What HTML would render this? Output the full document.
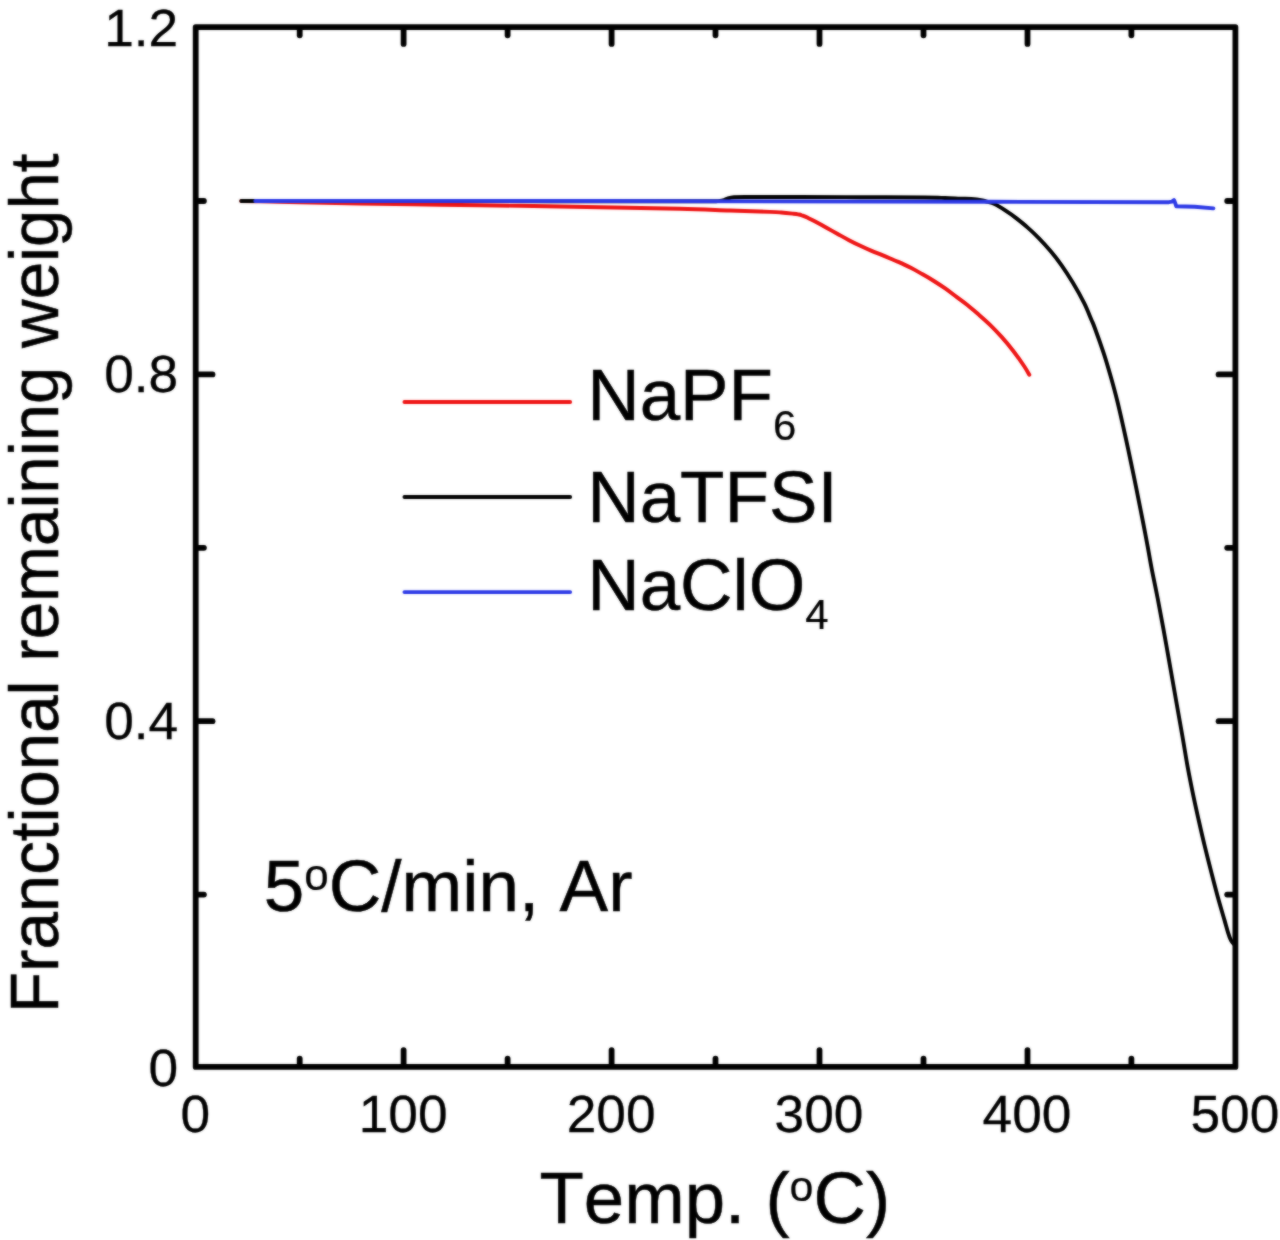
<!DOCTYPE html>
<html lang="en">
<head>
<meta charset="utf-8">
<title>TGA of sodium salts</title>
<style>
html,body{margin:0;padding:0;background:#fff;}
body{width:1280px;height:1240px;overflow:hidden;}
svg{display:block;}
text{font-family:"Liberation Sans",Arial,Helvetica,sans-serif;fill:#000;font-kerning:none;}
.tick{font-size:52.6px;stroke:#000;stroke-width:0.3px;}
.lbl{stroke:#000;stroke-width:0.5px;}
.lbl .s{stroke-width:0.2px;}
.big{font-size:68px;}
</style>
</head>
<body>
<svg width="1280" height="1240" viewBox="0 0 1280 1240">
<filter id="soft" x="0" y="0" width="1280" height="1240" filterUnits="userSpaceOnUse" color-interpolation-filters="sRGB">
<feGaussianBlur in="SourceGraphic" stdDeviation="0.8" result="b"/>
<feComposite in="SourceGraphic" in2="b" operator="arithmetic" k1="0" k2="0.45" k3="0.55" k4="0"/>
</filter>
<g filter="url(#soft)">
<rect x="0" y="0" width="1280" height="1240" fill="#fff"/>
<g fill="none" stroke-linejoin="round" stroke-linecap="round" stroke-width="3.9">
<path stroke="#ee1212" d="M241.3,201.0 C246.1,201.1 260.2,201.4 270.0,201.6 C279.8,201.8 285.0,202.0 300.0,202.3 C315.0,202.6 336.7,203.1 360.0,203.5 C383.3,203.9 413.3,204.3 440.0,204.7 C466.7,205.1 493.3,205.3 520.0,205.8 C546.7,206.2 573.3,206.8 600.0,207.3 C626.7,207.8 658.3,208.2 680.0,208.8 C701.7,209.3 715.0,210.0 730.0,210.5 C745.0,211.0 761.5,211.6 770.0,211.9 C778.5,212.2 777.5,212.2 781.3,212.5 C785.1,212.8 789.8,213.3 792.6,213.6 C795.4,213.9 796.5,214.0 798.0,214.3 C799.5,214.6 800.0,214.6 801.5,215.2 C803.0,215.8 805.0,216.5 807.3,217.6 C809.6,218.7 812.0,219.8 815.2,221.5 C818.4,223.2 822.8,225.6 826.5,227.7 C830.2,229.8 834.0,231.9 837.7,234.0 C841.5,236.1 845.2,238.2 849.0,240.2 C852.8,242.2 856.5,244.0 860.3,245.8 C864.1,247.6 867.8,249.3 871.6,250.9 C875.4,252.5 879.1,253.8 882.9,255.4 C886.7,257.0 891.4,259.1 894.2,260.3 C897.1,261.5 897.1,261.3 900.0,262.6 C902.9,263.9 907.5,266.2 911.3,268.1 C915.1,270.1 918.8,272.2 922.6,274.3 C926.4,276.4 930.1,278.6 933.9,281.0 C937.7,283.4 941.4,285.8 945.2,288.4 C949.0,291.0 952.8,294.1 956.5,296.9 C960.2,299.7 964.0,302.3 967.7,305.3 C971.5,308.3 975.2,311.6 979.0,314.9 C982.8,318.2 986.5,321.4 990.3,325.1 C994.1,328.8 997.8,332.7 1001.6,336.9 C1005.4,341.1 1009.1,345.6 1012.9,350.5 C1016.7,355.4 1021.5,362.2 1024.2,366.3 C1026.9,370.4 1028.5,373.4 1029.3,374.8"/>
<path stroke="#000" d="M241.3,201.0 C267.8,201.0 348.6,201.0 400.0,201.0 C451.4,201.0 508.3,201.1 550.0,201.2 C591.7,201.2 626.7,201.3 650.0,201.3 C673.3,201.3 680.3,201.3 690.0,201.3 C699.7,201.3 703.7,201.3 708.0,201.2 C712.3,201.2 714.0,201.2 716.0,201.2 C718.0,201.1 718.7,201.2 720.0,201.0 C721.3,200.8 722.7,200.4 724.0,200.0 C725.3,199.6 726.3,198.8 728.0,198.3 C729.7,197.8 731.2,197.4 734.0,197.2 C736.8,197.0 740.7,197.0 745.0,197.0 C749.3,197.0 750.8,197.0 760.0,197.0 C769.2,197.0 783.3,197.0 800.0,197.0 C816.7,197.0 839.2,197.1 860.0,197.2 C880.8,197.3 910.8,197.4 925.0,197.5 C939.2,197.6 939.2,197.8 945.0,198.0 C950.8,198.2 955.6,198.5 960.0,198.7 C964.4,198.9 967.5,198.7 971.3,199.0 C975.1,199.3 979.8,200.0 982.6,200.5 C985.4,201.0 986.1,201.4 988.0,202.0 C989.9,202.6 991.1,202.4 994.0,203.8 C996.9,205.2 1001.5,208.0 1005.2,210.4 C1009.0,212.8 1012.8,215.5 1016.5,218.4 C1020.2,221.3 1024.0,224.3 1027.7,227.6 C1031.5,230.9 1035.2,234.5 1039.0,238.3 C1042.8,242.2 1046.5,246.2 1050.3,250.7 C1054.1,255.2 1057.8,259.9 1061.6,265.3 C1065.4,270.7 1069.1,276.5 1072.9,282.8 C1076.7,289.1 1081.1,297.0 1084.2,303.2 C1087.3,309.4 1089.7,315.9 1091.5,320.0 C1093.3,324.1 1092.8,322.6 1094.8,328.0 C1096.8,333.4 1100.8,344.5 1103.5,352.6 C1106.2,360.7 1108.5,368.7 1110.8,376.8 C1113.1,384.9 1115.3,392.9 1117.3,401.0 C1119.3,409.1 1121.1,417.1 1122.9,425.2 C1124.7,433.3 1126.5,441.3 1128.2,449.4 C1129.9,457.5 1131.6,465.5 1133.3,473.6 C1135.0,481.7 1136.6,489.7 1138.2,497.8 C1139.8,505.9 1141.4,513.9 1143.0,522.0 C1144.6,530.1 1146.1,538.1 1147.6,546.2 C1149.1,554.3 1150.3,561.8 1152.0,570.4 C1153.7,579.0 1155.2,585.6 1157.6,598.0 C1160.0,610.4 1163.5,629.3 1166.3,645.0 C1169.1,660.7 1171.9,677.0 1174.6,692.0 C1177.2,707.0 1180.0,722.6 1182.2,735.0 C1184.4,747.4 1185.8,756.9 1187.6,766.6 C1189.4,776.3 1191.0,784.3 1192.8,793.2 C1194.6,802.1 1196.6,810.9 1198.6,819.8 C1200.6,828.7 1202.6,837.5 1204.8,846.4 C1207.0,855.3 1209.2,864.1 1211.5,873.0 C1213.8,881.9 1216.3,891.6 1218.5,899.6 C1220.7,907.6 1223.1,915.3 1224.7,920.9 C1226.3,926.5 1227.2,930.0 1228.3,933.3 C1229.3,936.5 1230.0,938.5 1231.0,940.4 C1232.0,942.3 1233.9,944.1 1234.5,944.8"/>
<polyline stroke="#2b38e6" points="255.3,201.0 600.0,201.0 990.0,201.8 1168.9,202.2 1172.0,201.6 1174.0,200.1 1175.2,203.0 1176.3,206.3 1194.7,206.7 1213.4,208.4"/>
</g>
<g stroke="#000" stroke-width="5.8" stroke-linecap="round" fill="none">
<line x1="299.7" y1="28.6" x2="299.7" y2="35.3"/>
<line x1="299.7" y1="1065.4" x2="299.7" y2="1058.7"/>
<line x1="403.6" y1="28.6" x2="403.6" y2="43.9"/>
<line x1="403.6" y1="1065.4" x2="403.6" y2="1050.1"/>
<line x1="507.6" y1="28.6" x2="507.6" y2="35.3"/>
<line x1="507.6" y1="1065.4" x2="507.6" y2="1058.7"/>
<line x1="611.6" y1="28.6" x2="611.6" y2="43.9"/>
<line x1="611.6" y1="1065.4" x2="611.6" y2="1050.1"/>
<line x1="715.5" y1="28.6" x2="715.5" y2="35.3"/>
<line x1="715.5" y1="1065.4" x2="715.5" y2="1058.7"/>
<line x1="819.5" y1="28.6" x2="819.5" y2="43.9"/>
<line x1="819.5" y1="1065.4" x2="819.5" y2="1050.1"/>
<line x1="923.5" y1="28.6" x2="923.5" y2="35.3"/>
<line x1="923.5" y1="1065.4" x2="923.5" y2="1058.7"/>
<line x1="1027.5" y1="28.6" x2="1027.5" y2="43.9"/>
<line x1="1027.5" y1="1065.4" x2="1027.5" y2="1050.1"/>
<line x1="1131.4" y1="28.6" x2="1131.4" y2="35.3"/>
<line x1="1131.4" y1="1065.4" x2="1131.4" y2="1058.7"/>
<line x1="197.2" y1="894.6" x2="203.9" y2="894.6"/>
<line x1="1233.9" y1="894.6" x2="1227.2" y2="894.6"/>
<line x1="197.2" y1="721.2" x2="212.5" y2="721.2"/>
<line x1="1233.9" y1="721.2" x2="1218.6" y2="721.2"/>
<line x1="197.2" y1="547.8" x2="203.9" y2="547.8"/>
<line x1="1233.9" y1="547.8" x2="1227.2" y2="547.8"/>
<line x1="197.2" y1="374.4" x2="212.5" y2="374.4"/>
<line x1="1233.9" y1="374.4" x2="1218.6" y2="374.4"/>
<line x1="197.2" y1="201.0" x2="203.9" y2="201.0"/>
<line x1="1233.9" y1="201.0" x2="1227.2" y2="201.0"/>
</g>
<rect x="195.7" y="27.1" width="1039.7" height="1039.8" fill="none" stroke="#000" stroke-width="5.8" stroke-linejoin="round"/>
<g class="tick">
<text transform="translate(195.2,1132.2) scale(1.013,1)" text-anchor="middle">0</text>
<text transform="translate(403.1,1132.2) scale(1.013,1)" text-anchor="middle">100</text>
<text transform="translate(611.1,1132.2) scale(1.013,1)" text-anchor="middle">200</text>
<text transform="translate(819.0,1132.2) scale(1.013,1)" text-anchor="middle">300</text>
<text transform="translate(1027.0,1132.2) scale(1.013,1)" text-anchor="middle">400</text>
<text transform="translate(1234.9,1132.2) scale(1.013,1)" text-anchor="middle">500</text>
<text transform="translate(178.2,1086.0) scale(1.013,1)" text-anchor="end">0</text>
<text transform="translate(178.2,739.2) scale(1.013,1)" text-anchor="end">0.4</text>
<text transform="translate(178.2,392.4) scale(1.013,1)" text-anchor="end">0.8</text>
<text transform="translate(178.2,45.6) scale(1.013,1)" text-anchor="end">1.2</text>
</g>
<g stroke-width="3.8" stroke-linecap="round">
<line x1="404.4" y1="402" x2="570.2" y2="402" stroke="#ee1212"/>
<line x1="404.4" y1="497" x2="570.2" y2="497" stroke="#000"/>
<line x1="404.4" y1="592.1" x2="570.2" y2="592.1" stroke="#2b38e6"/>
</g>
<g class="lbl">
<text x="587.2" y="420" font-size="72.7">NaPF<tspan class="s" font-size="42" dy="19.5">6</tspan></text>
<text x="587.2" y="522.2" font-size="72.7">NaTFSI</text>
<text x="587.2" y="610" font-size="72.7">NaClO<tspan class="s" font-size="42" dy="19">4</tspan></text>
<text x="263.7" y="911" font-size="72.9">5<tspan class="s" font-size="44" dy="-21.5">o</tspan><tspan dy="21.5">C/min, Ar</tspan></text>
<text x="539.5" y="1223.3" font-size="72.6">Temp. (<tspan class="s" font-size="43" dy="-22">o</tspan><tspan dy="22">C)</tspan></text>
<text transform="translate(57.8,1013) rotate(-90) scale(0.9888,1)" x="0" y="0" font-size="68">Franctional remaining weight</text>
</g>
</g>
</svg>
</body>
</html>
